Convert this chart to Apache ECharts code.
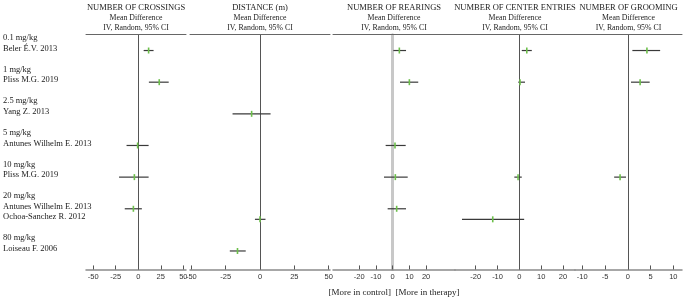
<!DOCTYPE html>
<html><head><meta charset="utf-8">
<script src="https://cdn.jsdelivr.net/npm/echarts@6/dist/echarts.min.js"></script>
<style>html,body{margin:0;padding:0;background:#fff}#c{width:685px;height:301px}</style>
</head><body><div id="c"></div>
<script>
// Row labels (row index = position in this list)
const rowLabels = ['0.1 mg/kg','Beler É.V. 2013','','1 mg/kg','Pliss M.G. 2019','','2.5 mg/kg','Yang Z. 2013','','5 mg/kg','Antunes Wilhelm E. 2013','','10 mg/kg','Pliss M.G. 2019','','20 mg/kg','Antunes Wilhelm E. 2013','Ochoa-Sanchez R. 2012','','80 mg/kg','Loiseau F. 2006'];

// Panel titles
const panelTitles = ['NUMBER OF CROSSINGS','DISTANCE (m)','NUMBER OF REARINGS','NUMBER OF CENTER ENTRIES','NUMBER OF GROOMING'];
const subTitle1 = 'Mean Difference';
const subTitle2 = 'IV, Random, 95% CI';

// Tick labels per panel
const crossingsTicks = [-50,-25,0,25,50];
const distanceTicks = [-50,-25,0,25,50];
const rearingsTicks = [-20,-10,0,10,20];
const centerTicks = [-20,-10,0,10,20];
const groomingTicks = [-10,-5,0,5,10];

// Data: row index, mean difference, lower CI, upper CI
const crossingsRows = [1,4,10,13,16];
const crossingsMean = [11.5,23.3,-0.7,-4.3,-5.4];
const crossingsLow  = [6,11.8,-13,-21.3,-15];
const crossingsHigh = [17,33.8,11.5,11.5,4];

const distanceRows = [7,17,20];
const distanceMean = [-6.1,0,-16.4];
const distanceLow  = [-20,-3.7,-22];
const distanceHigh = [7.7,4,-10.4];

const rearingsRows = [1,4,10,13,16];
const rearingsMean = [4,10,1.4,1.6,2.4];
const rearingsLow  = [0.4,4.4,-4.2,-5.2,-3];
const rearingsHigh = [8,15.3,7.8,9,8];

const centerRows = [1,4,13,17];
const centerMean = [3.4,0.3,-0.6,-12.2];
const centerLow  = [1.1,-0.5,-2.3,-26.3];
const centerHigh = [5.7,2.6,1.1,2.2];

const groomingRows = [1,4,13];
const groomingMean = [4.2,2.7,-1.7];
const groomingLow  = [1,0.7,-3];
const groomingHigh = [7.1,4.8,-0.4];

const bottomNote = '[More in control]  [More in therapy]';

const panels = [
  {rows:crossingsRows,mean:crossingsMean,low:crossingsLow,high:crossingsHigh,ticks:crossingsTicks,min:-58,max:53,left:86,width:100,zero:'#555',zeroW:1},
  {rows:distanceRows,mean:distanceMean,low:distanceLow,high:distanceHigh,ticks:distanceTicks,min:-51,max:51,left:190,width:140,zero:'#555',zeroW:1},
  {rows:rearingsRows,mean:rearingsMean,low:rearingsLow,high:rearingsHigh,ticks:rearingsTicks,min:-35.7,max:37.3,left:333,width:122,zero:'#c8c8c8',zeroW:3},
  {rows:centerRows,mean:centerMean,low:centerLow,high:centerHigh,ticks:centerTicks,min:-29.5,max:25.5,left:455,width:120,zero:'#555',zeroW:1},
  {rows:groomingRows,mean:groomingMean,low:groomingLow,high:groomingHigh,ticks:groomingTicks,min:-11.6,max:11.9,left:575,width:107,zero:'#555',zeroW:1}
];

const serif = 'Liberation Serif, Times New Roman, serif';
const grids=[], xAxes=[], yAxes=[], series=[];
const TOP = 34.7, ROWH = 10.55;
const YMIN = -0.5, YMAX = 21.75;

function renderCI(params, api){
  const y = api.value(3);
  const p1 = api.coord([api.value(1), y]);
  const p2 = api.coord([api.value(2), y]);
  const pm = api.coord([api.value(0), y]);
  return {type:'group',children:[
    {type:'line',shape:{x1:p1[0],y1:p1[1],x2:p2[0],y2:p2[1]},style:{stroke:'#3a3a3a',lineWidth:1.2}},
    {type:'rect',shape:{x:pm[0]-0.8,y:pm[1]-3,width:1.6,height:6},style:{fill:'#6cc04a'}}
  ]};
}

panels.forEach((p,i)=>{
  grids.push({left:p.left,width:p.width,top:TOP,height:(YMAX-YMIN)*ROWH,containLabel:false,outerBoundsMode:'none'});
  xAxes.push({type:'value',gridIndex:i,position:'bottom',min:p.min,max:p.max,
    splitLine:{show:false},
    axisLine:{show:true,onZero:false,lineStyle:{color:'#8a8a8a',width:1.5}},
    axisTick:{show:true,inside:true,length:4,customValues:p.ticks,lineStyle:{color:'#555'}},
    axisLabel:{show:true,customValues:p.ticks,fontSize:7.5,color:'#333',margin:3,fontFamily:'Liberation Sans Narrow, Liberation Sans, sans-serif'},
    name: i===2 ? bottomNote : '', nameLocation:'middle', nameGap:19,
    nameTextStyle:{fontFamily:serif,fontSize:9,color:'#222'}
  });
  xAxes.push({type:'value',gridIndex:i,position:'top',min:p.min,max:p.max,
    splitLine:{show:false},
    axisLine:{show:true,onZero:false,lineStyle:{color:'#666',width:1}},
    axisTick:{show:false},axisLabel:{show:false},
    name:'{t|'+panelTitles[i]+'}\n{s|'+subTitle1+'}\n{s|'+subTitle2+'}',
    nameLocation:'middle',nameGap:2,
    nameTextStyle:{align:'center',verticalAlign:'bottom',rich:{
      t:{fontFamily:serif,fontSize:8.5,color:'#222',lineHeight:10},
      s:{fontFamily:serif,fontSize:7.8,color:'#222',lineHeight:10}}}
  });
  yAxes.push({type:'value',gridIndex:i,inverse:true,min:YMIN,max:YMAX,
    splitLine:{show:false},axisTick:{show:false},axisLabel:{show:false},
    axisLine:{show:true,onZero:true,lineStyle:{color:p.zero,width:p.zeroW}}});
  const data = p.rows.map((r,k)=>[p.mean[k],p.low[k],p.high[k],r]);
  series.push({type:'custom',xAxisIndex:2*i,yAxisIndex:i,renderItem:renderCI,
    encode:{x:[0,1,2],y:3},data:data,z:5});
});

// label grid
const li = panels.length;
grids.push({left:86,width:1,top:TOP-2.2,height:rowLabels.length*ROWH,containLabel:false,outerBoundsMode:'none'});
xAxes.push({type:'value',gridIndex:li,show:false});
yAxes.push({type:'category',gridIndex:li,inverse:true,data:rowLabels,
  axisLine:{show:false},axisTick:{show:false},splitLine:{show:false},
  axisLabel:{interval:0,align:'left',margin:83,fontFamily:serif,fontSize:8.5,color:'#222'}});

const chart = echarts.init(document.getElementById('c'),null,{renderer:'canvas'});
chart.setOption({animation:false,backgroundColor:'#fff',grid:grids,xAxis:xAxes,yAxis:yAxes,series:series});
</script></body></html>
